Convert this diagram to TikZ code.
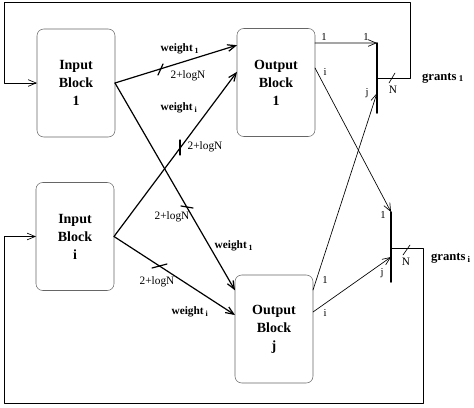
\documentclass[tikz,border=0pt]{standalone}
\usepackage{fontspec}
\setmainfont{Liberation Serif}
\usetikzlibrary{arrows.meta}
\tikzset{
  blk/.style={draw=black!60, rounded corners=5pt, minimum width=58.5pt, minimum height=81pt, outer sep=0pt, align=center, font=\fontsize{10.5}{13.5}\selectfont\bfseries},
  fat/.style={line width=0.9pt},
  thn/.style={line width=0.5pt},
  barln/.style={line width=1.2pt},
  wlab/.style={inner sep=0pt, font=\fontsize{8.5}{10}\selectfont\bfseries},
  nlab/.style={inner sep=0pt, font=\fontsize{8.5}{10}\selectfont},
  plab/.style={inner sep=0pt, font=\fontsize{8}{9}\selectfont}
}
\begin{document}
\begin{tikzpicture}[x=0.75pt, y=-0.75pt, >={Straight Barb[length=6pt,width=5pt]}, line join=round, line cap=round]
\useasboundingbox (0,0) rectangle (474,407);
% blocks
\node[blk] (in1) at (76,83) {Input\\Block\\1};
\node[blk] (ini) at (75,236.5) {Input\\Block\\i};
\node[blk] (out1) at (276,82.5) {Output\\Block\\1};
\node[blk] (outj) at (274,329) {Output\\Block\\j};
% arbiters
\coordinate (b1t) at (377,43); \coordinate (b1b) at (377,113);
\coordinate (b1j) at (377,93); \coordinate (b1g) at (377,78);
\coordinate (b2t) at (391,212); \coordinate (b2b) at (391,282);
\coordinate (b2j) at (391,257); \coordinate (b2g) at (391,248);
\draw[barln] (b1t) -- (b1b);
\draw[barln] (b2t) -- (b2b);
% weights
\draw[fat,->] (in1.east) -- ([yshift=28pt]out1.west);
\draw[fat,->] (in1.east) -- ([yshift=29pt]outj.west);
\draw[fat,->] (ini.east) -- ([yshift=8pt]out1.west);
\draw[fat,->] (ini.east) -- ([yshift=10.5pt]outj.west);
\foreach \xa/\ya/\xb/\yb in {158/75/163/64, 180/140/180/155, 181/206/193/208, 152/268/167/264}
  \draw[fat] (\xa,\ya) -- (\xb,\yb);
\node[wlab] (w1a) at (180,49) {weight\,\textsubscript{1}};
\node[wlab] (wia) at (179,108) {weight\,\textsubscript{i}};
\node[wlab] (w1b) at (234,246) {weight\,\textsubscript{1}};
\node[wlab] (wib) at (190,312) {weight\,\textsubscript{i}};
\node[nlab] (n1) at (188,76) {2+logN};
\node[nlab] (n2) at (205,147) {2+logN};
\node[nlab] (n3) at (172,217) {2+logN};
\node[nlab] (n4) at (157,282) {2+logN};
% requests
\draw[thn,->] ([yshift=29.6pt]out1.east) -- (b1t);
\draw[thn,->] ([yshift=10.9pt]out1.east) -- (b2t);
\draw[thn,->] ([yshift=29.25pt]outj.east) -- (b1j);
\draw[thn,->] ([yshift=12.75pt]outj.east) -- (b2j);
\node[plab] (p1) at (324,37) {1};
\node[plab] (p2) at (366,37) {1};
\node[plab] (p3) at (325,72) {i};
\node[plab] (p4) at (367,93) {j};
\node[plab] (p5) at (383,215) {1};
\node[plab] (p6) at (382,273) {j};
\node[plab] (p7) at (325,280) {1};
\node[plab] (p8) at (325,313) {i};
% grants back to inputs
\draw[thn,->] (b1g) -- (410,78) |- (4,2) |- (in1.west);
\draw[thn,->] (b2g) -- (423,248) |- (4,403) |- (ini.west);
\draw[thn] (389,83) -- (395,73);
\draw[thn] (403,255) -- (410,245);
\node[nlab] (g1n) at (393,90) {N};
\node[nlab] (g2n) at (406,262) {N};
\node[wlab, font=\fontsize{9.5}{11}\selectfont\bfseries] (g1) at (443,78) {grants\,\textsubscript{1}};
\node[wlab, font=\fontsize{9.5}{11}\selectfont\bfseries] (g2) at (451,258) {grants\,\textsubscript{i}};
\end{tikzpicture}
\end{document}
